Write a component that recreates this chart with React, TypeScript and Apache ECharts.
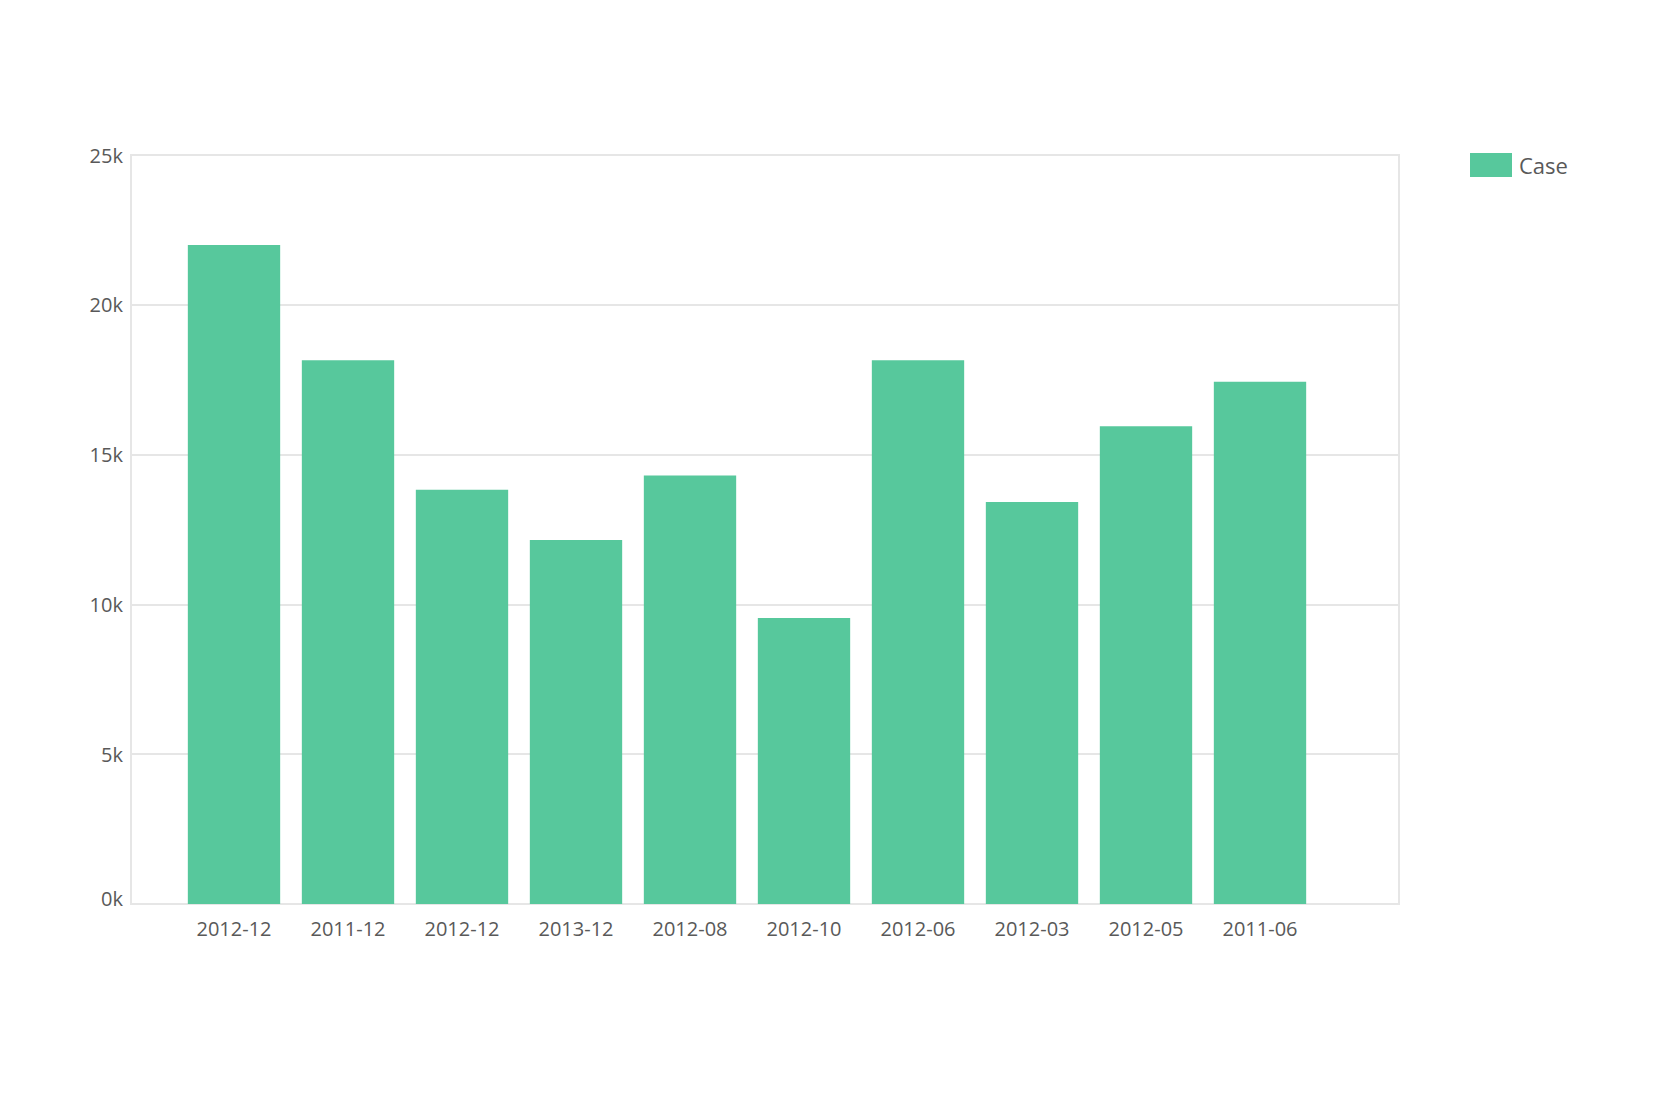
import React, { useEffect, useRef } from 'react';
import * as echarts from 'echarts';

const months = [
  '2012-12', '2011-12', '2012-12', '2013-12', '2012-08',
  '2012-10', '2012-06', '2012-03', '2012-05', '2011-06',
];
const caseValues = [22000, 18150, 13830, 12150, 14300, 9550, 18150, 13420, 15950, 17430];
const yTicks = { min: 0, max: 25000, interval: 5000 };

const FONT = '"Open Sans", "Noto Sans", sans-serif';
const TEXT = '#595959';
const LINE = '#e6e6e6';
const GREEN = '#57c89c';

const App: React.FC = () => {
  const chartRef = useRef<HTMLDivElement>(null);

  useEffect(() => {
    if (!chartRef.current) return;
    const chart = echarts.init(chartRef.current, undefined, { renderer: 'svg' });

    const option = {
      animation: false,
      backgroundColor: '#fff',
      textStyle: { fontFamily: FONT },
      legend: {
        data: ['Case'],
        left: 1465,
        top: 148,
        itemWidth: 42,
        itemHeight: 24,
        itemGap: 10,
        textStyle: { color: TEXT, fontSize: 22, fontFamily: FONT, padding: [0, 0, 12, 2] },
        icon: 'rect',
      },
      grid: [
        // frame + y axis
        {
          left: 131, right: 255, top: 155, bottom: 212,
          show: true, borderColor: LINE, borderWidth: 2,
        },
        // bars
        { left: 177, right: 337, top: 155, bottom: 212 },
      ],
      xAxis: [
        { gridIndex: 0, type: 'value', show: false },
        {
          gridIndex: 1,
          type: 'category',
          data: months,
          axisLine: { show: false },
          axisTick: { show: false },
          axisLabel: { color: TEXT, fontSize: 20, fontFamily: FONT, margin: 14, interval: 0 },
        },
      ],
      yAxis: [
        {
          gridIndex: 0,
          type: 'value',
          ...yTicks,
          axisLine: { show: false },
          axisTick: { show: false },
          splitLine: { lineStyle: { color: LINE, width: 2 } },
          axisLabel: {
            color: TEXT, fontSize: 20, fontFamily: FONT, margin: 8,
            lineHeight: 12,
            verticalAlignMinLabel: 'bottom',
            formatter: (v: number) => `${v / 1000}k`,
          },
        },
        { gridIndex: 1, type: 'value', ...yTicks, show: false, splitLine: { show: false } },
      ],
      series: [
        {
          name: 'Case',
          type: 'bar',
          xAxisIndex: 1,
          yAxisIndex: 1,
          data: caseValues,
          barCategoryGap: '19%',
          itemStyle: { color: GREEN },
        },
      ],
    };

    chart.setOption(option);
    return () => chart.dispose();
  }, []);

  return (
    <div
      ref={chartRef}
      style={{ position: 'fixed', left: 0, top: 0, width: '1654px', height: '1116px' }}
    />
  );
};

export default App;
